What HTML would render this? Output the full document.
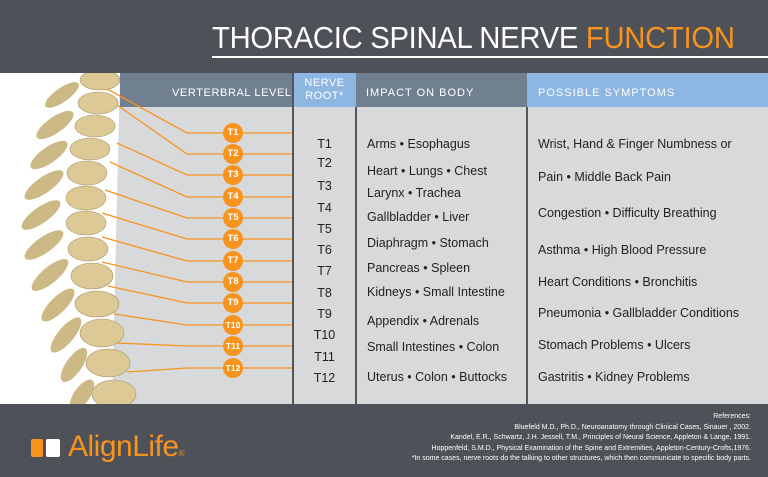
<!DOCTYPE html>
<html><head><style>
*{margin:0;padding:0}
body{width:768px;height:477px;position:relative;overflow:hidden;background:#fff;font-family:"Liberation Sans",sans-serif}
.a{position:absolute}
.hdr{color:#fff;font-size:11px;letter-spacing:0.6px;white-space:nowrap}
.t{position:absolute;font-size:12.5px;color:#222;white-space:nowrap}
.nr{position:absolute;font-size:12.5px;color:#222;width:63px;text-align:center;left:293px}
.c{position:absolute;left:223px;width:20px;height:20px;border-radius:50%;background:#f7941d;color:#fff;font-size:9.5px;font-weight:bold;text-align:center;line-height:20px}
.ref{font-size:7px;color:#fff;text-align:right;line-height:10.5px}
</style></head><body>
<div class="a" style="left:0;top:0;width:768px;height:73px;background:#4e5157"></div>
<div class="a" style="left:212px;top:20px;font-size:31px;color:#fff;letter-spacing:-0.3px;transform:scaleX(0.943);transform-origin:left;white-space:nowrap">THORACIC SPINAL NERVE <span style="color:#f7941d">FUNCTION</span></div>
<div class="a" style="left:212px;top:56px;width:556px;height:1.5px;background:#fff"></div>
<div class="a" style="left:110px;top:73px;width:658px;height:331px;background:#d8d9db"></div>
<div class="a" style="left:120px;top:73px;width:173px;height:34px;background:#708090"></div>
<div class="a hdr" style="left:172px;top:87px">VERTERBRAL LEVEL</div>
<div class="a" style="left:293px;top:73px;width:63px;height:34px;background:#8db7e2"></div>
<div class="a hdr" style="left:293px;top:77px;width:63px;text-align:center;line-height:13px;letter-spacing:0.5px">NERVE<br>ROOT*</div>
<div class="a" style="left:356px;top:73px;width:171px;height:34px;background:#708090"></div>
<div class="a hdr" style="left:366px;top:87px;letter-spacing:1px">IMPACT ON BODY</div>
<div class="a" style="left:527px;top:73px;width:241px;height:34px;background:#8db7e2"></div>
<div class="a hdr" style="left:538px;top:87px;letter-spacing:1px">POSSIBLE SYMPTOMS</div>
<div class="a" style="left:292px;top:73px;width:2px;height:331px;background:#555"></div>
<div class="a" style="left:355px;top:107px;width:2px;height:297px;background:#555"></div>
<div class="a" style="left:526px;top:107px;width:2px;height:297px;background:#555"></div>
<svg class="a" style="left:0;top:73px" width="300" height="331" viewBox="0 73 300 331">
<polygon points="0,73 120,73 112,404 0,404" fill="#fff"/>
<g stroke="#f7941d" stroke-width="1.3" fill="none">
<polyline points="100,85 187,133 292,133"/>
<polyline points="117,105 187,154 292,154"/>
<polyline points="117,143 187,175 292,175"/>
<polyline points="110,162 187,197 292,197"/>
<polyline points="105,190 187,218 292,218"/>
<polyline points="102,213 187,239 292,239"/>
<polyline points="102,237 187,261 292,261"/>
<polyline points="102,262 187,282 292,282"/>
<polyline points="108,286 187,303 292,303"/>
<polyline points="114,314 187,325 292,325"/>
<polyline points="117,343 187,346 292,346"/>
<polyline points="127,372 187,368 292,368"/>
</g>
<g fill="#cdb985">
<ellipse cx="62" cy="95" rx="20" ry="7" transform="rotate(-35 62 95)"/>
<ellipse cx="55" cy="125" rx="22" ry="8" transform="rotate(-35 55 125)"/>
<ellipse cx="49" cy="155" rx="22" ry="8" transform="rotate(-35 49 155)"/>
<ellipse cx="44" cy="185" rx="23" ry="8" transform="rotate(-35 44 185)"/>
<ellipse cx="41" cy="215" rx="23" ry="8" transform="rotate(-35 41 215)"/>
<ellipse cx="44" cy="245" rx="23" ry="8" transform="rotate(-35 44 245)"/>
<ellipse cx="50" cy="275" rx="23" ry="8" transform="rotate(-40 50 275)"/>
<ellipse cx="58" cy="305" rx="22" ry="8" transform="rotate(-45 58 305)"/>
<ellipse cx="66" cy="335" rx="22" ry="8" transform="rotate(-50 66 335)"/>
<ellipse cx="74" cy="365" rx="20" ry="8" transform="rotate(-55 74 365)"/>
<ellipse cx="82" cy="395" rx="18" ry="8" transform="rotate(-55 82 395)"/>
</g>
<g fill="#dcc995" stroke="#a8956a" stroke-width="0.6">
<ellipse cx="100" cy="80" rx="20" ry="10"/>
<ellipse cx="98" cy="103" rx="20" ry="11"/>
<ellipse cx="95" cy="126" rx="20" ry="11"/>
<ellipse cx="90" cy="149" rx="20" ry="11"/>
<ellipse cx="87" cy="173" rx="20" ry="12"/>
<ellipse cx="86" cy="198" rx="20" ry="12"/>
<ellipse cx="86" cy="223" rx="20" ry="12"/>
<ellipse cx="88" cy="249" rx="20" ry="12"/>
<ellipse cx="92" cy="276" rx="21" ry="13"/>
<ellipse cx="97" cy="304" rx="22" ry="13"/>
<ellipse cx="102" cy="333" rx="22" ry="14"/>
<ellipse cx="108" cy="363" rx="22" ry="14"/>
<ellipse cx="114" cy="394" rx="22" ry="14"/>
</g>
</svg>
<div class="c" style="top:123px">T1</div><div class="c" style="top:144px">T2</div><div class="c" style="top:165px">T3</div><div class="c" style="top:187px">T4</div><div class="c" style="top:208px">T5</div><div class="c" style="top:229px">T6</div><div class="c" style="top:251px">T7</div><div class="c" style="top:272px">T8</div><div class="c" style="top:293px">T9</div><div class="c" style="top:315px;font-size:8.5px">T10</div><div class="c" style="top:336px;font-size:8.5px">T11</div><div class="c" style="top:358px;font-size:8.5px">T12</div>
<div class="nr" style="top:137px">T1</div><div class="nr" style="top:156px">T2</div><div class="nr" style="top:179px">T3</div><div class="nr" style="top:201px">T4</div><div class="nr" style="top:222px">T5</div><div class="nr" style="top:243px">T6</div><div class="nr" style="top:264px">T7</div><div class="nr" style="top:286px">T8</div><div class="nr" style="top:307px">T9</div><div class="nr" style="top:328px">T10</div><div class="nr" style="top:350px">T11</div><div class="nr" style="top:371px">T12</div>
<div class="t" style="left:367px;top:137px">Arms • Esophagus</div>
<div class="t" style="left:367px;top:164px">Heart • Lungs • Chest</div>
<div class="t" style="left:367px;top:186px">Larynx • Trachea</div>
<div class="t" style="left:367px;top:210px">Gallbladder • Liver</div>
<div class="t" style="left:367px;top:236px">Diaphragm • Stomach</div>
<div class="t" style="left:367px;top:261px">Pancreas • Spleen</div>
<div class="t" style="left:367px;top:285px">Kidneys • Small Intestine</div>
<div class="t" style="left:367px;top:314px">Appendix • Adrenals</div>
<div class="t" style="left:367px;top:340px">Small Intestines • Colon</div>
<div class="t" style="left:367px;top:370px">Uterus • Colon • Buttocks</div>
<div class="t" style="left:538px;top:137px">Wrist, Hand &amp; Finger Numbness or</div>
<div class="t" style="left:538px;top:170px">Pain • Middle Back Pain</div>
<div class="t" style="left:538px;top:206px">Congestion • Difficulty Breathing</div>
<div class="t" style="left:538px;top:243px">Asthma • High Blood Pressure</div>
<div class="t" style="left:538px;top:275px">Heart Conditions • Bronchitis</div>
<div class="t" style="left:538px;top:306px">Pneumonia • Gallbladder Conditions</div>
<div class="t" style="left:538px;top:338px">Stomach Problems • Ulcers</div>
<div class="t" style="left:538px;top:370px">Gastritis • Kidney Problems</div>
<div class="a" style="left:0;top:404px;width:768px;height:73px;background:#4e5157"></div>
<div class="a" style="left:31px;top:439px;width:12px;height:18px;background:#f7941d;border-radius:2px"></div>
<div class="a" style="left:46px;top:439px;width:14px;height:18px;background:#fff;border-radius:2px"></div>
<div class="a" style="left:68px;top:430px;font-size:30px;color:#f7941d;letter-spacing:-0.5px">AlignLife<span style="font-size:8px">®</span></div>
<div class="a ref" style="right:17px;top:412px;width:560px">References:<br>Bluefeld M.D., Ph.D., Neuroanatomy through Clinical Cases, Sinauer , 2002.<br>Kandel, E.R., Schwartz, J.H. Jessell, T.M., Principles of Neural Science, Appleton &amp; Lange, 1991.<br>Hoppenfeld, S.M.D., Physical Examination of the Spine and Extremities, Appleton-Century-Crofts,1976.<br>*In some cases, nerve roots do the talking to other structures, which then communicate to specific body parts.</div>
</body></html>
